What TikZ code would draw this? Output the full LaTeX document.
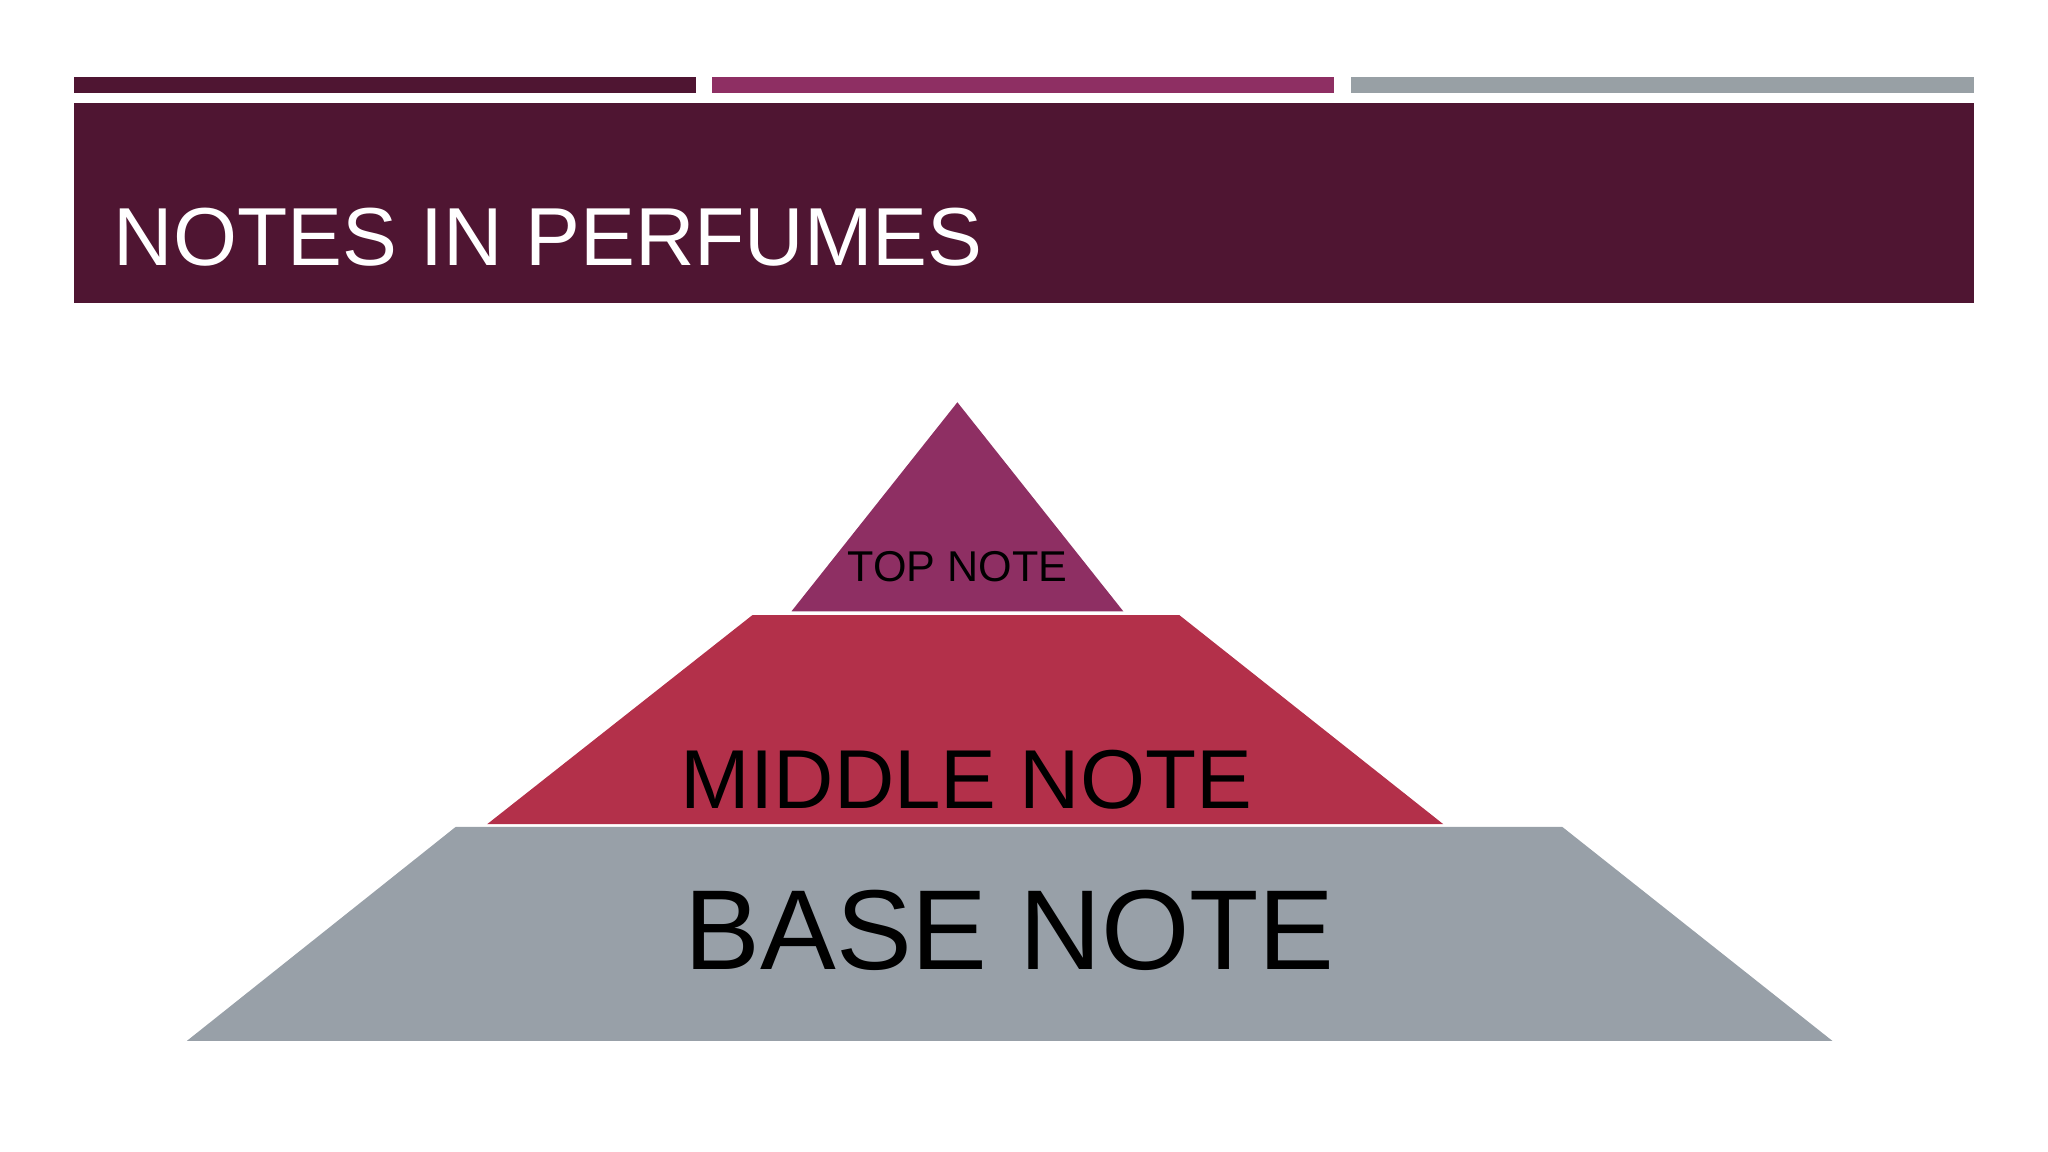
\documentclass[tikz,border=0pt]{standalone}
\usepackage{fontspec}
\setmainfont{Liberation Sans}
\definecolor{plum}{HTML}{4F1532}
\definecolor{magen}{HTML}{8E2F63}
\definecolor{greyb}{HTML}{98A0A5}
\definecolor{rosered}{HTML}{B3304A}
\definecolor{basegrey}{HTML}{98A0A8}
\begin{document}
\begin{tikzpicture}[x=1pt,y=-1pt,
  lbl/.style={anchor=base,inner sep=0pt,text=black}]
\useasboundingbox (0,0) rectangle (1568,882);
\fill[plum] (57,59) rectangle (533,71);
\fill[magen] (545,59) rectangle (1021,71);
\fill[greyb] (1034,59) rectangle (1511,71);
\fill[plum] (57,79) rectangle (1511,232);
\node[anchor=base west,inner sep=0pt,text=white,font=\fontsize{63}{70}\selectfont] (title) at (87,203) {NOTES IN PERFUMES};
\fill[basegrey] (349,633) -- (1196,633) -- (1403,797) -- (143,797) -- cycle;
\fill[rosered] (576,471) -- (903,471) -- (1105,631) -- (373,631) -- cycle;
\fill[magen] (733,308) -- (860,468) -- (606,468) -- cycle;
\node[lbl,font=\fontsize{33}{36}\selectfont] (top) at (733,445) {TOP NOTE};
\node[lbl,font=\fontsize{64}{70}\selectfont] (mid) at (740,619) {MIDDLE NOTE};
\node[lbl,font=\fontsize{87}{95}\selectfont] (base) at (773,742) {BASE NOTE};
\end{tikzpicture}
\end{document}
